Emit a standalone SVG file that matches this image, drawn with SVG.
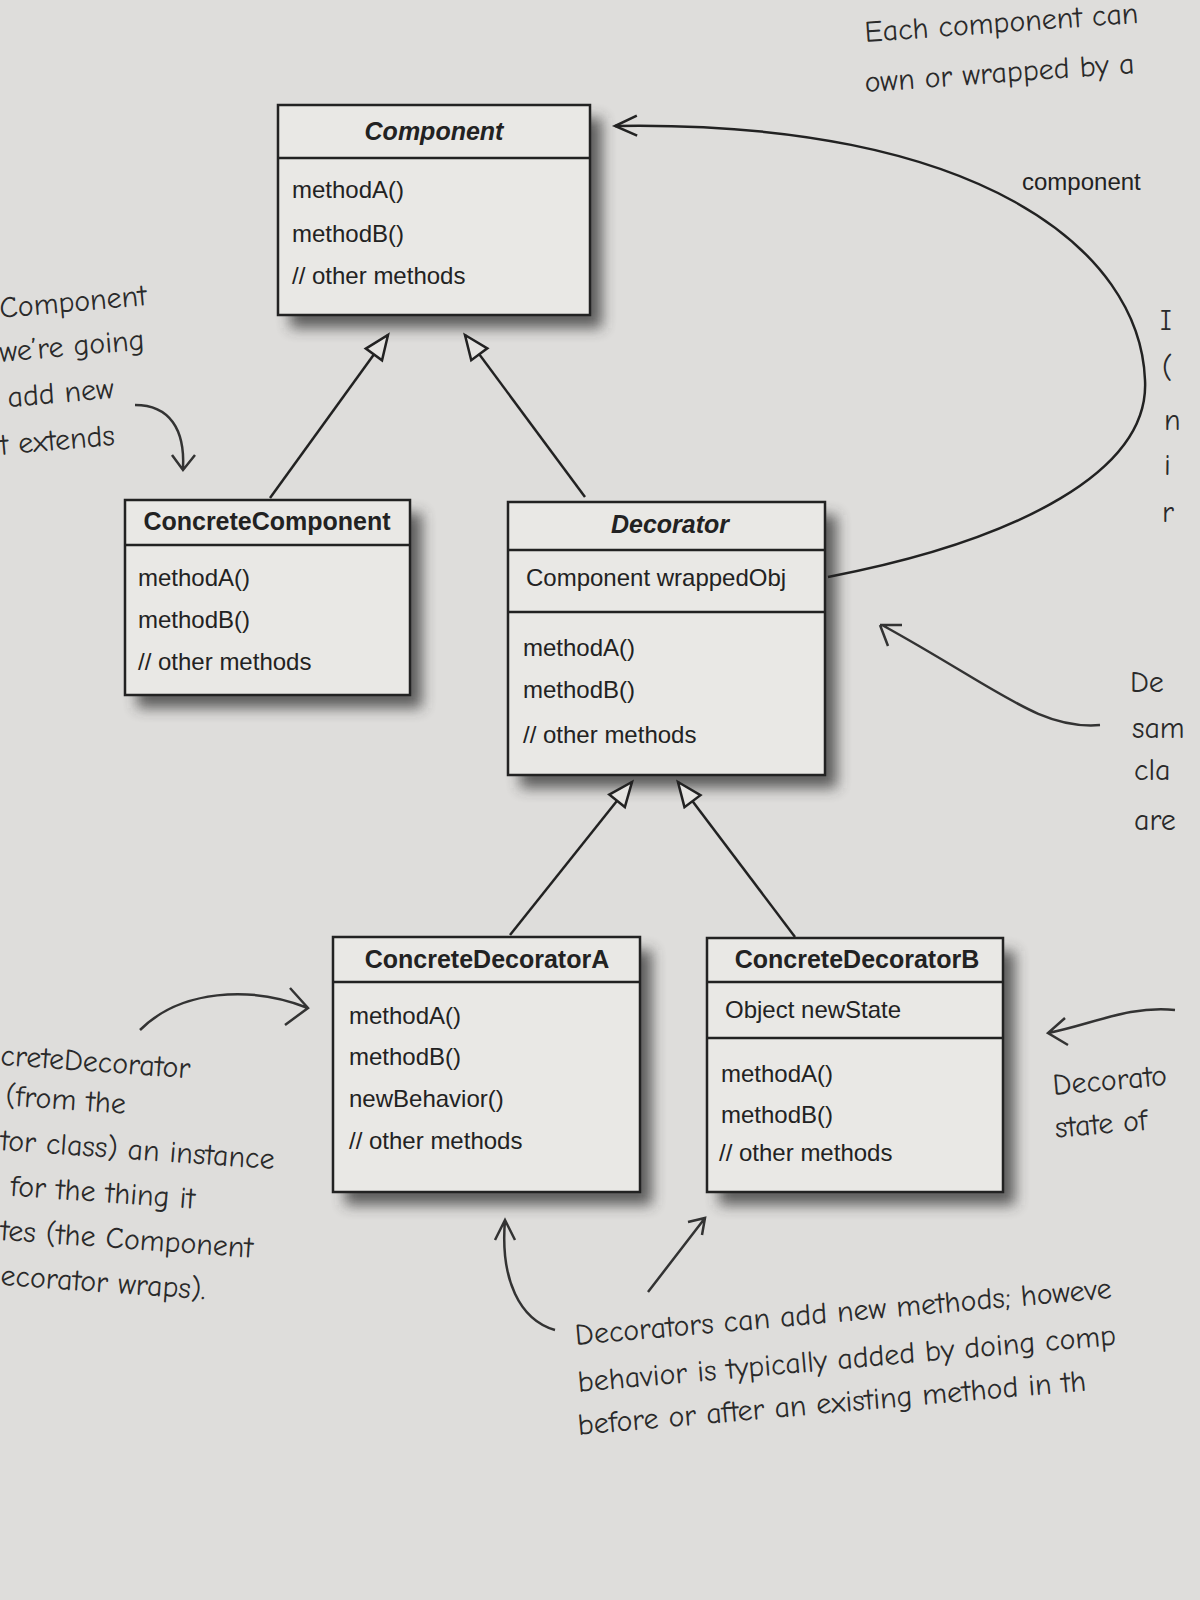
<svg xmlns="http://www.w3.org/2000/svg" width="1200" height="1600" viewBox="0 0 1200 1600">
<defs>
<filter id="sh" x="-10%" y="-10%" width="130%" height="130%"><feGaussianBlur stdDeviation="7"/></filter>
<marker id="tri" markerWidth="30" markerHeight="30" refX="26" refY="12" orient="auto" markerUnits="userSpaceOnUse"><path d="M2,2 L26,12 L2,22 Z" fill="#e6e5e2" stroke="#222" stroke-width="2.5"/></marker>
<marker id="open" markerWidth="30" markerHeight="30" refX="26" refY="12" orient="auto" markerUnits="userSpaceOnUse"><path d="M4,2 L26,12 L4,22" fill="none" stroke="#222" stroke-width="2.5"/></marker>
</defs>
<style>
.box{fill:#e9e8e5;stroke:#222;stroke-width:2.5}
.shd{fill:#333;opacity:.75;filter:url(#sh)}
.ln{stroke:#222;stroke-width:2.5;fill:none}
.t{font-family:"Liberation Sans",Arial,sans-serif;font-size:24px;fill:#222}
.b{font-weight:bold;text-anchor:middle;font-size:25px}
.i{font-style:italic}
.h{font-family:"Comic Neue","DejaVu Sans",sans-serif;font-size:30px;fill:#2a2a2a}
.hw{stroke:#333;stroke-width:2.5;fill:none}
</style>
<rect width="1200" height="1600" fill="#dedddb"/>
<g id="Component">
<rect class="shd" x="290" y="118" width="312" height="210"/>
<rect class="box" x="278" y="105" width="312" height="210"/>
<line class="ln" x1="278" y1="158" x2="590" y2="158"/>
<text class="t b i" x="434" y="140">Component</text>
<text class="t" x="292" y="198">methodA()</text>
<text class="t" x="292" y="242">methodB()</text>
<text class="t" x="292" y="284">// other methods</text>
</g>
<g id="ConcreteComponent">
<rect class="shd" x="137" y="513" width="285" height="195"/>
<rect class="box" x="125" y="500" width="285" height="195"/>
<line class="ln" x1="125" y1="545" x2="410" y2="545"/>
<text class="t b" x="267" y="530">ConcreteComponent</text>
<text class="t" x="138" y="586">methodA()</text>
<text class="t" x="138" y="628">methodB()</text>
<text class="t" x="138" y="670">// other methods</text>
</g>
<g id="Decorator">
<rect class="shd" x="520" y="515" width="317" height="273"/>
<rect class="box" x="508" y="502" width="317" height="273"/>
<line class="ln" x1="508" y1="550" x2="825" y2="550"/>
<line class="ln" x1="508" y1="612" x2="825" y2="612"/>
<text class="t b i" x="670" y="533">Decorator</text>
<text class="t" x="526" y="586">Component wrappedObj</text>
<text class="t" x="523" y="656">methodA()</text>
<text class="t" x="523" y="698">methodB()</text>
<text class="t" x="523" y="743">// other methods</text>
</g>
<g id="ConcreteDecoratorA">
<rect class="shd" x="345" y="950" width="307" height="255"/>
<rect class="box" x="333" y="937" width="307" height="255"/>
<line class="ln" x1="333" y1="982" x2="640" y2="982"/>
<text class="t b" x="487" y="968">ConcreteDecoratorA</text>
<text class="t" x="349" y="1024">methodA()</text>
<text class="t" x="349" y="1065">methodB()</text>
<text class="t" x="349" y="1107">newBehavior()</text>
<text class="t" x="349" y="1149">// other methods</text>
</g>
<g id="ConcreteDecoratorB">
<rect class="shd" x="719" y="951" width="296" height="254"/>
<rect class="box" x="707" y="938" width="296" height="254"/>
<line class="ln" x1="707" y1="982" x2="1003" y2="982"/>
<line class="ln" x1="707" y1="1038" x2="1003" y2="1038"/>
<text class="t b" x="857" y="968">ConcreteDecoratorB</text>
<text class="t" x="725" y="1018">Object newState</text>
<text class="t" x="721" y="1082">methodA()</text>
<text class="t" x="721" y="1123">methodB()</text>
<text class="t" x="719" y="1161">// other methods</text>
</g>
<g id="connectors">
<line class="ln" x1="270" y1="498" x2="388" y2="335" marker-end="url(#tri)"/>
<line class="ln" x1="585" y1="497" x2="465" y2="335" marker-end="url(#tri)"/>
<line class="ln" x1="510" y1="935" x2="632" y2="782" marker-end="url(#tri)"/>
<line class="ln" x1="795" y1="937" x2="678" y2="782" marker-end="url(#tri)"/>
<path class="ln" d="M828,577 C1020,540 1150,470 1145,380 C1140,250 980,120 615,126" marker-end="url(#open)"/>
<text class="t" x="1022" y="190" font-size="27">component</text>
</g>
<g id="notes">
<text class="h" transform="rotate(-4 865 40)" x="865" y="42">Each component can</text>
<text class="h" transform="rotate(-4 865 90)" x="865" y="92">own or wrapped by a</text>
<text class="h" transform="rotate(-5 0 315)" x="0" y="318">Component</text>
<text class="h" transform="rotate(-5 0 360)" x="0" y="362">we’re going</text>
<text class="h" transform="rotate(-5 0 405)" x="8" y="408">add new</text>
<text class="h" transform="rotate(-5 0 450)" x="0" y="455">t extends</text>
<path class="hw" d="M135,405 C170,405 185,430 183,468 M172,455 L183,470 L195,455"/>
<text class="h" x="1160" y="330">I</text>
<text class="h" x="1162" y="378">(</text>
<text class="h" x="1164" y="430">n</text>
<text class="h" x="1164" y="475">i</text>
<text class="h" x="1162" y="522">r</text>
<text class="h" x="1130" y="692">De</text>
<text class="h" x="1132" y="738">sam</text>
<text class="h" x="1134" y="780">cla</text>
<text class="h" x="1134" y="830">are</text>
<path class="hw" d="M1100,725 C1040,730 1000,690 882,625 M880,625 L902,625 M880,625 L888,646"/>
<text class="h" transform="rotate(4 0 1065)" x="0" y="1065">creteDecorator</text>
<text class="h" transform="rotate(4 0 1105)" x="5" y="1105">(from the</text>
<text class="h" transform="rotate(4 0 1150)" x="0" y="1150">tor class) an instance</text>
<text class="h" transform="rotate(4 0 1195)" x="10" y="1195">for the thing it</text>
<text class="h" transform="rotate(4 0 1240)" x="0" y="1240">tes (the Component</text>
<text class="h" transform="rotate(4 0 1285)" x="0" y="1285">ecorator wraps).</text>
<path class="hw" d="M140,1030 C180,990 250,985 308,1008 M290,988 L308,1008 L285,1025"/>
<text class="h" transform="rotate(-5 1053 1090)" x="1053" y="1095">Decorato</text>
<text class="h" transform="rotate(-5 1053 1130)" x="1055" y="1138">state of</text>
<path class="hw" d="M1175,1010 C1130,1005 1090,1025 1048,1033 M1065,1018 L1048,1033 L1068,1045"/>
<text class="h" transform="rotate(-5 575 1335)" x="575" y="1345">Decorators can add new methods; howeve</text>
<text class="h" transform="rotate(-5 578 1385)" x="578" y="1392">behavior is typically added by doing comp</text>
<text class="h" transform="rotate(-5 578 1430)" x="578" y="1435">before or after an existing method in th</text>
<path class="hw" d="M555,1330 C520,1320 500,1280 505,1220 M495,1240 L505,1220 L515,1240"/>
<path class="hw" d="M648,1292 L705,1218 M688,1222 L705,1218 L702,1235"/>
</g>
</svg>
